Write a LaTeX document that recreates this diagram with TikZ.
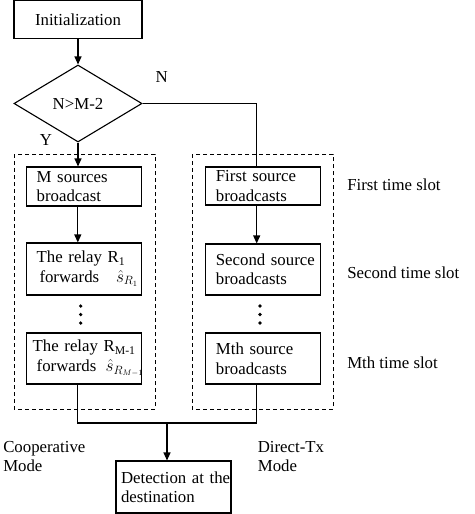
\documentclass[tikz,border=0pt]{standalone}
\usepackage{fontspec}
\setmainfont{Liberation Serif}
\usetikzlibrary{calc}
\usetikzlibrary{arrows.meta}
\usetikzlibrary{shapes.geometric}

\begin{document}
\begin{tikzpicture}[x=1pt, y=-1pt, line width=1.1pt,
  font=\fontsize{16.8}{19.5}\selectfont,
  blk/.style={draw, rectangle, minimum width=115pt, text width=95pt, inner xsep=10pt, inner ysep=1pt, align=left},
  grp/.style={draw, line width=0.9pt, dash pattern=on 4pt off 3pt},
  arr/.style={-{Triangle[length=8pt, width=7pt]}},
  lbl/.style={anchor=west, align=left, inner sep=0pt}]
\useasboundingbox (0,0) rectangle (474,514);

\node[draw, minimum width=128pt, minimum height=38pt, inner sep=0pt] (init) at (78,19.8) {Initialization};
\node[draw, diamond, minimum width=128pt, minimum height=77pt, inner sep=0pt] (dec) at (78,103.5) {N>M-2};

\draw[grp] (14,154) rectangle (155,409);
\draw[grp] (192,154) rectangle (333,409);

\node[blk, minimum height=39pt] (msrc) at (84.2,186.5) {\mbox{M sources}\\broadcast};
\node[blk, minimum height=52pt] (rly1) at (84.2,269) {\mbox{The relay R\textsubscript{1}}\\\mbox{\,forwards\quad$\hat{s}_{R_1}$}};
\node[blk, minimum height=51pt] (rlyM) at (84.2,358.5) {\mbox{\hspace*{-4pt}The relay R\textsubscript{M-1}}\\\mbox{forwards\;\;$\hat{s}_{R_{M-1}}$}};
\node[blk, minimum height=38pt] (src1) at (263.4,186) {\mbox{First source}\\broadcasts};
\node[blk, minimum height=51pt] (src2) at (263.4,269.5) {\mbox{Second source}\\broadcasts};
\node[blk, minimum height=51pt] (srcM) at (263.4,358.5) {\mbox{Mth source}\\broadcasts};
\node[blk, minimum height=52pt, inner xsep=5pt, text width=105pt] (det) at (173.5,487) {\mbox{Detection at the}\\destination};

\coordinate (colL) at (77.8,0);
\coordinate (colR) at (256.7,0);
\coordinate (join) at (167,423);

\draw[arr] (init.south) -- (dec.north);
\draw (dec.east) -| (src1.north -| colR);
\draw[arr] (dec.south) -- (dec.south |- msrc.north);
\draw[arr] (msrc.south -| colL) -- (rly1.north -| colL);
\draw[arr] (src1.south -| colR) -- (src2.north -| colR);
\draw (rlyM.south -| colL) |- (join) -| (srcM.south -| colR);
\draw[arr] (join) -- (join |- det.north);

\foreach \y in {306,314.5,323} {
 \fill (80.7,\y) circle (1.8pt);
 \fill (260,\y) circle (1.8pt);
}

\node (lN) at (161.7,76.5) {N};
\node (lY) at (46,140) {Y};
\node[lbl] (t1) at (346.7,185) {First time slot};
\node[lbl] (t2) at (346.7,273) {Second time slot};
\node[lbl] (tM) at (346.7,363) {Mth time slot};
\node[lbl] (coop) at (2.7,456.7) {Cooperative\\Mode};
\node[lbl] (dtx) at (257.3,456.7) {Direct-Tx\\Mode};
\end{tikzpicture}
\end{document}
